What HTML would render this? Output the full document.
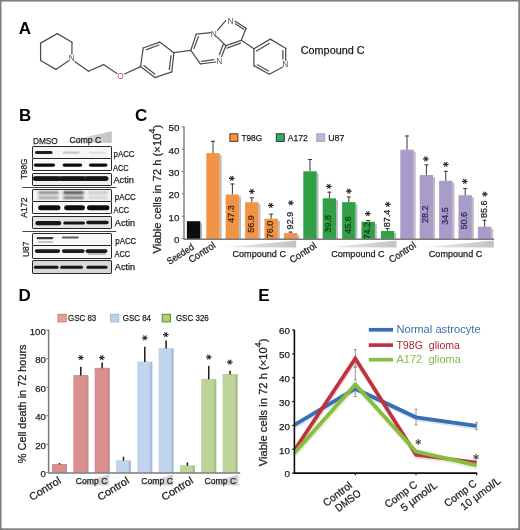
<!DOCTYPE html><html><head><meta charset="utf-8"><style>html,body{margin:0;padding:0;background:#fff;}svg{display:block;}text{font-family:"Liberation Sans",Arial,sans-serif;}</style></head><body>
<svg width="520" height="530" viewBox="0 0 520 530">
<rect x="0" y="0" width="520" height="530" fill="#ffffff"/>
<defs><filter id="soft" x="0" y="0" width="520" height="530" filterUnits="userSpaceOnUse"><feGaussianBlur stdDeviation="0.3"/></filter></defs>
<g filter="url(#soft)">
<defs><linearGradient id="wg" x1="0" y1="0" x2="1" y2="0"><stop offset="0" stop-color="#ececec"/><stop offset="1" stop-color="#c2c2c2"/></linearGradient><linearGradient id="wg2" x1="0" y1="0" x2="1" y2="0"><stop offset="0" stop-color="#f0f0f0"/><stop offset="1" stop-color="#cdcdcd"/></linearGradient><filter id="bl" x="-20%" y="-100%" width="140%" height="300%"><feGaussianBlur stdDeviation="0.75"/></filter><filter id="bl2" x="-20%" y="-100%" width="140%" height="300%"><feGaussianBlur stdDeviation="0.9"/></filter></defs>
<polygon points="60.8,142.6 111.8,131.3 111.8,142.9" fill="url(#wg)"/>
<text x="32.90" y="144.00" font-size="9.6" fill="#222" textLength="24.90" lengthAdjust="spacingAndGlyphs" stroke="#222" stroke-width="0.25">DMSO</text>
<text x="69.40" y="142.90" font-size="9.6" fill="#222" textLength="32.00" lengthAdjust="spacingAndGlyphs" stroke="#222" stroke-width="0.25">Comp C</text>
<rect x="32.5" y="146.50" width="79.0" height="12.00" rx="0.6" fill="#f6f6f6" stroke="#262626" stroke-width="1.0"/>
<text x="113.50" y="156.50" font-size="8.8" fill="#1e1e1e" textLength="21.00" lengthAdjust="spacingAndGlyphs" stroke="#1e1e1e" stroke-width="0.25">pACC</text>
<rect x="32.5" y="158.50" width="79.0" height="12.00" rx="0.6" fill="#fbfbfb" stroke="#262626" stroke-width="1.0"/>
<text x="113.10" y="170.50" font-size="8.8" fill="#1e1e1e" textLength="15.60" lengthAdjust="spacingAndGlyphs" stroke="#1e1e1e" stroke-width="0.25">ACC</text>
<rect x="32.5" y="173.50" width="79.0" height="12.00" rx="0.6" fill="#f0f0f0" stroke="#262626" stroke-width="1.0"/>
<text x="113.50" y="182.90" font-size="8.8" fill="#1e1e1e" textLength="20.40" lengthAdjust="spacingAndGlyphs" stroke="#1e1e1e" stroke-width="0.25">Actin</text>
<rect x="32.5" y="189.50" width="79.0" height="12.00" rx="0.6" fill="#f3f3f3" stroke="#262626" stroke-width="1.0"/>
<text x="114.80" y="199.80" font-size="8.8" fill="#1e1e1e" textLength="21.00" lengthAdjust="spacingAndGlyphs" stroke="#1e1e1e" stroke-width="0.25">pACC</text>
<rect x="32.5" y="201.50" width="79.0" height="12.00" rx="0.6" fill="#fbfbfb" stroke="#262626" stroke-width="1.0"/>
<text x="113.50" y="213.10" font-size="8.8" fill="#1e1e1e" textLength="15.60" lengthAdjust="spacingAndGlyphs" stroke="#1e1e1e" stroke-width="0.25">ACC</text>
<rect x="32.5" y="216.50" width="79.0" height="12.00" rx="0.6" fill="#e4e4e4" stroke="#262626" stroke-width="1.0"/>
<text x="114.80" y="225.70" font-size="8.8" fill="#1e1e1e" textLength="20.40" lengthAdjust="spacingAndGlyphs" stroke="#1e1e1e" stroke-width="0.25">Actin</text>
<rect x="32.5" y="233.50" width="79.0" height="12.00" rx="0.6" fill="#f8f8f8" stroke="#262626" stroke-width="1.0"/>
<text x="115.30" y="243.60" font-size="8.8" fill="#1e1e1e" textLength="21.00" lengthAdjust="spacingAndGlyphs" stroke="#1e1e1e" stroke-width="0.25">pACC</text>
<rect x="32.5" y="245.50" width="79.0" height="13.00" rx="0.6" fill="#f6f6f6" stroke="#262626" stroke-width="1.0"/>
<text x="114.50" y="257.30" font-size="8.8" fill="#1e1e1e" textLength="15.60" lengthAdjust="spacingAndGlyphs" stroke="#1e1e1e" stroke-width="0.25">ACC</text>
<rect x="32.5" y="260.50" width="79.0" height="13.00" rx="0.6" fill="#d8d8d8" stroke="#262626" stroke-width="1.0"/>
<text x="114.80" y="270.10" font-size="8.8" fill="#1e1e1e" textLength="20.40" lengthAdjust="spacingAndGlyphs" stroke="#1e1e1e" stroke-width="0.25">Actin</text>
<line x1="22.5" y1="187.5" x2="116.3" y2="187.5" stroke="#444" stroke-width="1.0"/>
<line x1="22.5" y1="231.5" x2="116.3" y2="231.5" stroke="#444" stroke-width="1.0"/>
<rect x="35.00" y="150.90" width="17.50" height="3.00" rx="1.50" fill="#1c1c1c" fill-opacity="1.0" filter="url(#bl)"/>
<rect x="62.70" y="151.50" width="16.90" height="2.20" rx="1.10" fill="#c6c6c6" fill-opacity="1.0" filter="url(#bl)"/>
<rect x="88.90" y="151.70" width="16.90" height="2.00" rx="1.00" fill="#e0e0e0" fill-opacity="1.0" filter="url(#bl)"/>
<rect x="33.80" y="163.50" width="21.30" height="3.20" rx="1.60" fill="#101010" fill-opacity="1.0" filter="url(#bl)"/>
<rect x="62.70" y="163.50" width="19.50" height="3.20" rx="1.60" fill="#101010" fill-opacity="1.0" filter="url(#bl)"/>
<rect x="88.90" y="163.50" width="18.60" height="3.20" rx="1.60" fill="#101010" fill-opacity="1.0" filter="url(#bl)"/>
<rect x="32.80" y="176.20" width="75.80" height="4.80" rx="2.40" fill="#2a2a2a" fill-opacity="1.0" filter="url(#bl)"/>
<rect x="33.50" y="176.50" width="26.50" height="4.20" rx="2.10" fill="#161616" fill-opacity="1.0" filter="url(#bl)"/>
<rect x="60.50" y="176.50" width="24.50" height="4.20" rx="2.10" fill="#161616" fill-opacity="1.0" filter="url(#bl)"/>
<rect x="85.50" y="176.50" width="22.50" height="4.20" rx="2.10" fill="#161616" fill-opacity="1.0" filter="url(#bl)"/>
<rect x="38.00" y="191.30" width="21.00" height="3.00" rx="1.50" fill="#8a8a8a" fill-opacity="1.0" filter="url(#bl2)"/>
<rect x="38.00" y="196.40" width="21.00" height="2.60" rx="1.30" fill="#9a9a9a" fill-opacity="1.0" filter="url(#bl2)"/>
<rect x="63.00" y="191.30" width="21.00" height="3.00" rx="1.50" fill="#4a4a4a" fill-opacity="1.0" filter="url(#bl2)"/>
<rect x="63.00" y="196.40" width="21.00" height="2.60" rx="1.30" fill="#666666" fill-opacity="1.0" filter="url(#bl2)"/>
<rect x="88.00" y="191.30" width="20.00" height="3.00" rx="1.50" fill="#c8c8c8" fill-opacity="1.0" filter="url(#bl2)"/>
<rect x="88.00" y="196.40" width="20.00" height="2.60" rx="1.30" fill="#cccccc" fill-opacity="1.0" filter="url(#bl2)"/>
<rect x="38.20" y="205.20" width="22.20" height="5.00" rx="2.50" fill="#0a0a0a" fill-opacity="1.0" filter="url(#bl)"/>
<rect x="64.20" y="205.20" width="20.70" height="5.00" rx="2.50" fill="#0a0a0a" fill-opacity="1.0" filter="url(#bl)"/>
<rect x="87.00" y="205.20" width="22.40" height="5.00" rx="2.50" fill="#0a0a0a" fill-opacity="1.0" filter="url(#bl)"/>
<rect x="35.40" y="221.10" width="25.80" height="4.20" rx="2.10" fill="#161616" fill-opacity="1.0" filter="url(#bl)"/>
<rect x="63.30" y="221.40" width="21.70" height="3.00" rx="1.50" fill="#161616" fill-opacity="1.0" filter="url(#bl)"/>
<rect x="86.20" y="220.65" width="22.40" height="3.50" rx="1.75" fill="#161616" fill-opacity="1.0" filter="url(#bl)"/>
<rect x="36.50" y="237.00" width="16.90" height="2.20" rx="1.10" fill="#3a3a3a" fill-opacity="1.0" filter="url(#bl)"/>
<rect x="38.00" y="241.10" width="15.40" height="1.80" rx="0.90" fill="#c4c4c4" fill-opacity="1.0" filter="url(#bl)"/>
<rect x="61.80" y="236.40" width="17.00" height="2.20" rx="1.10" fill="#5e5e5e" fill-opacity="1.0" filter="url(#bl)"/>
<rect x="34.80" y="249.30" width="25.40" height="3.60" rx="1.80" fill="#1a1a1a" fill-opacity="1.0" filter="url(#bl)"/>
<rect x="61.80" y="249.30" width="22.90" height="3.60" rx="1.80" fill="#1a1a1a" fill-opacity="1.0" filter="url(#bl)"/>
<rect x="85.50" y="249.30" width="22.00" height="3.60" rx="1.80" fill="#1a1a1a" fill-opacity="1.0" filter="url(#bl)"/>
<rect x="88.00" y="253.25" width="18.00" height="1.50" rx="0.75" fill="#a8a8a8" fill-opacity="1.0" filter="url(#bl)"/>
<rect x="33.90" y="265.80" width="24.60" height="3.00" rx="1.50" fill="#131313" fill-opacity="1.0" filter="url(#bl)"/>
<rect x="60.20" y="265.80" width="22.80" height="3.00" rx="1.50" fill="#131313" fill-opacity="1.0" filter="url(#bl)"/>
<rect x="86.40" y="265.80" width="21.10" height="3.00" rx="1.50" fill="#131313" fill-opacity="1.0" filter="url(#bl)"/>
<text x="27.3" y="168.8" font-size="9.8" fill="#222" text-anchor="middle" textLength="20.8" lengthAdjust="spacingAndGlyphs" transform="rotate(-90 27.3 168.8)" stroke="#222" stroke-width="0.25">T98G</text>
<text x="26.9" y="207.6" font-size="9.8" fill="#222" text-anchor="middle" textLength="20.2" lengthAdjust="spacingAndGlyphs" transform="rotate(-90 26.9 207.6)" stroke="#222" stroke-width="0.25">A172</text>
<text x="29.0" y="249.3" font-size="9.8" fill="#222" text-anchor="middle" textLength="15.5" lengthAdjust="spacingAndGlyphs" transform="rotate(-90 29.0 249.3)" stroke="#222" stroke-width="0.25">U87</text>
<text x="18.80" y="34.20" font-size="17" fill="#000" font-weight="bold">A</text>
<text x="19.10" y="120.70" font-size="17" fill="#000" font-weight="bold">B</text>
<text x="135.00" y="120.80" font-size="17" fill="#000" font-weight="bold">C</text>
<text x="18.60" y="301.30" font-size="17" fill="#000" font-weight="bold">D</text>
<text x="258.20" y="300.90" font-size="17" fill="#000" font-weight="bold">E</text>
<g stroke="#4d4d4d" stroke-width="1.25" stroke-linecap="round" fill="none">
<line x1="40.6" y1="43.1" x2="57.3" y2="33.6"/>
<line x1="57.3" y1="33.6" x2="72.0" y2="42.3"/>
<line x1="72.0" y1="42.3" x2="71.9" y2="54.2"/>
<line x1="68.4" y1="61.0" x2="55.8" y2="69.4"/>
<line x1="55.8" y1="69.4" x2="40.6" y2="60.5"/>
<line x1="40.6" y1="60.5" x2="40.6" y2="43.1"/>
<line x1="75.0" y1="61.8" x2="88.5" y2="71.3"/>
<line x1="88.5" y1="71.3" x2="103.5" y2="64.6"/>
<line x1="103.5" y1="64.6" x2="116.9" y2="73.4"/>
<line x1="124.6" y1="74.0" x2="140.6" y2="66.6"/>
<line x1="140.6" y1="66.6" x2="143.2" y2="48.0"/>
<line x1="143.2" y1="48.0" x2="159.7" y2="42.1"/>
<line x1="159.7" y1="42.1" x2="173.9" y2="52.7"/>
<line x1="173.9" y1="52.7" x2="171.8" y2="71.8"/>
<line x1="171.8" y1="71.8" x2="154.9" y2="77.6"/>
<line x1="154.9" y1="77.6" x2="140.6" y2="66.6"/>
<line x1="146.4" y1="49.6" x2="158.9" y2="45.0"/>
<line x1="171.0" y1="55.6" x2="169.3" y2="69.6"/>
<line x1="143.9" y1="65.6" x2="154.6" y2="74.0"/>
<line x1="173.9" y1="52.7" x2="190.8" y2="50.3"/>
<line x1="190.8" y1="50.3" x2="196.3" y2="34.1"/>
<line x1="194.0" y1="48.5" x2="198.4" y2="36.6"/>
<line x1="196.3" y1="34.1" x2="210.6" y2="32.6"/>
<line x1="216.6" y1="36.6" x2="225.9" y2="45.7"/>
<line x1="225.9" y1="45.7" x2="221.6" y2="56.4"/>
<line x1="223.4" y1="44.3" x2="219.3" y2="54.6"/>
<line x1="215.6" y1="62.0" x2="200.4" y2="63.9"/>
<line x1="201.6" y1="61.3" x2="213.8" y2="59.7"/>
<line x1="200.4" y1="63.9" x2="190.8" y2="50.3"/>
<line x1="217.6" y1="30.2" x2="225.7" y2="20.6"/>
<line x1="235.2" y1="21.2" x2="246.1" y2="28.3"/>
<line x1="235.4" y1="23.8" x2="243.6" y2="29.2"/>
<line x1="246.1" y1="28.3" x2="241.3" y2="40.3"/>
<line x1="241.3" y1="40.3" x2="225.9" y2="45.7"/>
<line x1="240.6" y1="43.2" x2="226.9" y2="48.1"/>
<line x1="241.3" y1="40.3" x2="253.9" y2="48.75"/>
<line x1="253.9" y1="48.75" x2="270.3" y2="39.1"/>
<line x1="256.5" y1="51.0" x2="269.5" y2="43.3"/>
<line x1="270.3" y1="39.1" x2="285.7" y2="48.3"/>
<line x1="285.7" y1="48.3" x2="285.7" y2="60.5"/>
<line x1="282.9" y1="50.5" x2="282.9" y2="59.0"/>
<line x1="282.4" y1="67.3" x2="269.3" y2="74.2"/>
<line x1="269.3" y1="74.2" x2="253.9" y2="65.6"/>
<line x1="268.5" y1="71.0" x2="257.4" y2="64.8"/>
<line x1="253.9" y1="65.6" x2="253.9" y2="48.75"/>
</g>
<text x="71.80" y="61.30" font-size="8.4" fill="#45567e" text-anchor="middle" stroke="none">N</text>
<text x="213.80" y="36.90" font-size="8.4" fill="#45567e" text-anchor="middle" stroke="none">N</text>
<text x="219.20" y="64.20" font-size="8.4" fill="#45567e" text-anchor="middle" stroke="none">N</text>
<text x="230.60" y="23.70" font-size="8.4" fill="#45567e" text-anchor="middle" stroke="none">N</text>
<text x="285.30" y="67.20" font-size="8.4" fill="#45567e" text-anchor="middle" stroke="none">N</text>
<text x="120.60" y="79.20" font-size="8.4" fill="#bf5a5a" text-anchor="middle" stroke="none">O</text>
<text x="300.80" y="54.20" font-size="10.8" fill="#1a1a1a" textLength="63.70" lengthAdjust="spacingAndGlyphs" stroke="#1a1a1a" stroke-width="0.25">Compound C</text>
<line x1="184.00" y1="126.40" x2="184.00" y2="239.50" stroke="#7a7a7a" stroke-width="1.4"/>
<line x1="181.60" y1="238.60" x2="184.00" y2="238.60" stroke="#7a7a7a" stroke-width="1.0"/>
<text x="179.40" y="243.00" font-size="9.8" fill="#222" text-anchor="end" stroke="#222" stroke-width="0.25">0</text>
<line x1="181.60" y1="216.26" x2="184.00" y2="216.26" stroke="#7a7a7a" stroke-width="1.0"/>
<text x="179.40" y="220.66" font-size="9.8" fill="#222" text-anchor="end" stroke="#222" stroke-width="0.25">10</text>
<line x1="181.60" y1="193.92" x2="184.00" y2="193.92" stroke="#7a7a7a" stroke-width="1.0"/>
<text x="179.40" y="198.32" font-size="9.8" fill="#222" text-anchor="end" stroke="#222" stroke-width="0.25">20</text>
<line x1="181.60" y1="171.58" x2="184.00" y2="171.58" stroke="#7a7a7a" stroke-width="1.0"/>
<text x="179.40" y="175.98" font-size="9.8" fill="#222" text-anchor="end" stroke="#222" stroke-width="0.25">30</text>
<line x1="181.60" y1="149.24" x2="184.00" y2="149.24" stroke="#7a7a7a" stroke-width="1.0"/>
<text x="179.40" y="153.64" font-size="9.8" fill="#222" text-anchor="end" stroke="#222" stroke-width="0.25">40</text>
<line x1="181.60" y1="126.90" x2="184.00" y2="126.90" stroke="#7a7a7a" stroke-width="1.0"/>
<text x="179.40" y="131.30" font-size="9.8" fill="#222" text-anchor="end" stroke="#222" stroke-width="0.25">50</text>
<text x="160.8" y="189.2" font-size="11.3" fill="#222" text-anchor="middle" transform="rotate(-90 160.8 189.2)" stroke="#222" stroke-width="0.25">Viable cells in 72 h (×10<tspan font-size="8.8" dy="-5.6">4</tspan><tspan dy="5.6">)</tspan></text>
<rect x="200.30" y="223.20" width="1.90" height="15.80" fill="#b9bcc2"/>
<rect x="186.90" y="221.20" width="13.40" height="17.80" fill="#111111"/>
<rect x="219.70" y="155.10" width="1.90" height="83.90" fill="#b9bcc2"/>
<rect x="206.30" y="153.10" width="13.40" height="85.90" fill="#f29444"/>
<line x1="213.00" y1="140.80" x2="213.00" y2="153.10" stroke="#3a3a3a" stroke-width="1.0"/>
<line x1="211.00" y1="141.30" x2="215.00" y2="141.30" stroke="#3a3a3a" stroke-width="1.0"/>
<rect x="239.10" y="196.50" width="1.90" height="42.50" fill="#b9bcc2"/>
<rect x="225.70" y="194.50" width="13.40" height="44.50" fill="#f29444"/>
<line x1="232.40" y1="183.50" x2="232.40" y2="194.50" stroke="#3a3a3a" stroke-width="1.0"/>
<line x1="230.40" y1="184.00" x2="234.40" y2="184.00" stroke="#3a3a3a" stroke-width="1.0"/>
<text x="232.40" y="178.50" style="font-family:'DejaVu Sans',sans-serif" font-size="9.0" fill="#2a2a2a" font-weight="bold" text-anchor="middle" dominant-baseline="central" transform="rotate(90 232.40 178.50)">&#x2217;</text>
<rect x="258.50" y="204.20" width="1.90" height="34.80" fill="#b9bcc2"/>
<rect x="245.10" y="202.20" width="13.40" height="36.80" fill="#f29444"/>
<line x1="251.80" y1="197.30" x2="251.80" y2="202.20" stroke="#3a3a3a" stroke-width="1.0"/>
<line x1="249.80" y1="197.80" x2="253.80" y2="197.80" stroke="#3a3a3a" stroke-width="1.0"/>
<text x="251.80" y="191.60" style="font-family:'DejaVu Sans',sans-serif" font-size="9.0" fill="#2a2a2a" font-weight="bold" text-anchor="middle" dominant-baseline="central" transform="rotate(90 251.80 191.60)">&#x2217;</text>
<rect x="277.90" y="220.70" width="1.90" height="18.30" fill="#b9bcc2"/>
<rect x="264.50" y="218.70" width="13.40" height="20.30" fill="#f29444"/>
<line x1="271.20" y1="213.70" x2="271.20" y2="218.70" stroke="#3a3a3a" stroke-width="1.0"/>
<line x1="269.20" y1="214.20" x2="273.20" y2="214.20" stroke="#3a3a3a" stroke-width="1.0"/>
<text x="271.20" y="205.60" style="font-family:'DejaVu Sans',sans-serif" font-size="9.0" fill="#2a2a2a" font-weight="bold" text-anchor="middle" dominant-baseline="central" transform="rotate(90 271.20 205.60)">&#x2217;</text>
<rect x="297.30" y="235.10" width="1.90" height="3.90" fill="#b9bcc2"/>
<rect x="283.90" y="233.10" width="13.40" height="5.90" fill="#f29444"/>
<line x1="290.60" y1="231.60" x2="290.60" y2="233.10" stroke="#3a3a3a" stroke-width="1.0"/>
<line x1="288.60" y1="232.10" x2="292.60" y2="232.10" stroke="#3a3a3a" stroke-width="1.0"/>
<text x="290.60" y="203.10" style="font-family:'DejaVu Sans',sans-serif" font-size="9.0" fill="#2a2a2a" font-weight="bold" text-anchor="middle" dominant-baseline="central" transform="rotate(90 290.60 203.10)">&#x2217;</text>
<rect x="316.70" y="173.30" width="1.90" height="65.70" fill="#b9bcc2"/>
<rect x="303.30" y="171.30" width="13.40" height="67.70" fill="#31a047"/>
<line x1="310.00" y1="159.00" x2="310.00" y2="171.30" stroke="#3a3a3a" stroke-width="1.0"/>
<line x1="308.00" y1="159.50" x2="312.00" y2="159.50" stroke="#3a3a3a" stroke-width="1.0"/>
<rect x="336.10" y="200.30" width="1.90" height="38.70" fill="#b9bcc2"/>
<rect x="322.70" y="198.30" width="13.40" height="40.70" fill="#31a047"/>
<line x1="329.40" y1="191.70" x2="329.40" y2="198.30" stroke="#3a3a3a" stroke-width="1.0"/>
<line x1="327.40" y1="192.20" x2="331.40" y2="192.20" stroke="#3a3a3a" stroke-width="1.0"/>
<text x="329.40" y="186.50" style="font-family:'DejaVu Sans',sans-serif" font-size="9.0" fill="#2a2a2a" font-weight="bold" text-anchor="middle" dominant-baseline="central" transform="rotate(90 329.40 186.50)">&#x2217;</text>
<rect x="355.50" y="204.10" width="1.90" height="34.90" fill="#b9bcc2"/>
<rect x="342.10" y="202.10" width="13.40" height="36.90" fill="#31a047"/>
<line x1="348.80" y1="196.50" x2="348.80" y2="202.10" stroke="#3a3a3a" stroke-width="1.0"/>
<line x1="346.80" y1="197.00" x2="350.80" y2="197.00" stroke="#3a3a3a" stroke-width="1.0"/>
<text x="348.80" y="191.20" style="font-family:'DejaVu Sans',sans-serif" font-size="9.0" fill="#2a2a2a" font-weight="bold" text-anchor="middle" dominant-baseline="central" transform="rotate(90 348.80 191.20)">&#x2217;</text>
<rect x="374.90" y="223.70" width="1.90" height="15.30" fill="#b9bcc2"/>
<rect x="361.50" y="221.70" width="13.40" height="17.30" fill="#31a047"/>
<line x1="368.20" y1="220.00" x2="368.20" y2="221.70" stroke="#3a3a3a" stroke-width="1.0"/>
<line x1="366.20" y1="220.50" x2="370.20" y2="220.50" stroke="#3a3a3a" stroke-width="1.0"/>
<text x="368.20" y="213.70" style="font-family:'DejaVu Sans',sans-serif" font-size="9.0" fill="#2a2a2a" font-weight="bold" text-anchor="middle" dominant-baseline="central" transform="rotate(90 368.20 213.70)">&#x2217;</text>
<rect x="394.30" y="233.00" width="1.90" height="6.00" fill="#b9bcc2"/>
<rect x="380.90" y="231.00" width="13.40" height="8.00" fill="#31a047"/>
<line x1="387.60" y1="228.00" x2="387.60" y2="231.00" stroke="#3a3a3a" stroke-width="1.0"/>
<line x1="385.60" y1="228.50" x2="389.60" y2="228.50" stroke="#3a3a3a" stroke-width="1.0"/>
<text x="387.60" y="204.50" style="font-family:'DejaVu Sans',sans-serif" font-size="9.0" fill="#2a2a2a" font-weight="bold" text-anchor="middle" dominant-baseline="central" transform="rotate(90 387.60 204.50)">&#x2217;</text>
<rect x="413.70" y="151.70" width="1.90" height="87.30" fill="#b9bcc2"/>
<rect x="400.30" y="149.70" width="13.40" height="89.30" fill="#a99cc8"/>
<line x1="407.00" y1="135.50" x2="407.00" y2="149.70" stroke="#3a3a3a" stroke-width="1.0"/>
<line x1="405.00" y1="136.00" x2="409.00" y2="136.00" stroke="#3a3a3a" stroke-width="1.0"/>
<rect x="433.10" y="177.00" width="1.90" height="62.00" fill="#b9bcc2"/>
<rect x="419.70" y="175.00" width="13.40" height="64.00" fill="#a99cc8"/>
<line x1="426.40" y1="164.40" x2="426.40" y2="175.00" stroke="#3a3a3a" stroke-width="1.0"/>
<line x1="424.40" y1="164.90" x2="428.40" y2="164.90" stroke="#3a3a3a" stroke-width="1.0"/>
<text x="426.40" y="158.90" style="font-family:'DejaVu Sans',sans-serif" font-size="9.0" fill="#2a2a2a" font-weight="bold" text-anchor="middle" dominant-baseline="central" transform="rotate(90 426.40 158.90)">&#x2217;</text>
<rect x="452.50" y="182.80" width="1.90" height="56.20" fill="#b9bcc2"/>
<rect x="439.10" y="180.80" width="13.40" height="58.20" fill="#a99cc8"/>
<line x1="445.80" y1="170.80" x2="445.80" y2="180.80" stroke="#3a3a3a" stroke-width="1.0"/>
<line x1="443.80" y1="171.30" x2="447.80" y2="171.30" stroke="#3a3a3a" stroke-width="1.0"/>
<text x="445.80" y="164.50" style="font-family:'DejaVu Sans',sans-serif" font-size="9.0" fill="#2a2a2a" font-weight="bold" text-anchor="middle" dominant-baseline="central" transform="rotate(90 445.80 164.50)">&#x2217;</text>
<rect x="471.90" y="197.20" width="1.90" height="41.80" fill="#b9bcc2"/>
<rect x="458.50" y="195.20" width="13.40" height="43.80" fill="#a99cc8"/>
<line x1="465.20" y1="188.00" x2="465.20" y2="195.20" stroke="#3a3a3a" stroke-width="1.0"/>
<line x1="463.20" y1="188.50" x2="467.20" y2="188.50" stroke="#3a3a3a" stroke-width="1.0"/>
<text x="465.20" y="181.50" style="font-family:'DejaVu Sans',sans-serif" font-size="9.0" fill="#2a2a2a" font-weight="bold" text-anchor="middle" dominant-baseline="central" transform="rotate(90 465.20 181.50)">&#x2217;</text>
<rect x="491.30" y="228.70" width="1.90" height="10.30" fill="#b9bcc2"/>
<rect x="477.90" y="226.70" width="13.40" height="12.30" fill="#a99cc8"/>
<line x1="484.60" y1="219.80" x2="484.60" y2="226.70" stroke="#3a3a3a" stroke-width="1.0"/>
<line x1="482.60" y1="220.30" x2="486.60" y2="220.30" stroke="#3a3a3a" stroke-width="1.0"/>
<text x="484.60" y="194.30" style="font-family:'DejaVu Sans',sans-serif" font-size="9.0" fill="#2a2a2a" font-weight="bold" text-anchor="middle" dominant-baseline="central" transform="rotate(90 484.60 194.30)">&#x2217;</text>
<line x1="184.00" y1="239.20" x2="494.20" y2="239.20" stroke="#7a7a7a" stroke-width="1.4"/>
<text x="231.50" y="214.10" font-size="9" fill="#3b2410" text-anchor="middle" dominant-baseline="central" transform="rotate(-90 231.50 214.10)" stroke="#3b2410" stroke-width="0.25">47.3</text>
<text x="250.90" y="223.90" font-size="9" fill="#3b2410" text-anchor="middle" dominant-baseline="central" transform="rotate(-90 250.90 223.90)" stroke="#3b2410" stroke-width="0.25">56.9</text>
<text x="270.30" y="229.40" font-size="9" fill="#3b2410" text-anchor="middle" dominant-baseline="central" transform="rotate(-90 270.30 229.40)" stroke="#3b2410" stroke-width="0.25">76.0</text>
<text x="289.70" y="220.60" font-size="9" fill="#222" text-anchor="middle" dominant-baseline="central" transform="rotate(-90 289.70 220.60)" stroke="#222" stroke-width="0.25">92.9</text>
<text x="328.50" y="223.80" font-size="9" fill="#0f3a18" text-anchor="middle" dominant-baseline="central" transform="rotate(-90 328.50 223.80)" stroke="#0f3a18" stroke-width="0.25">39.8</text>
<text x="347.90" y="225.00" font-size="9" fill="#0f3a18" text-anchor="middle" dominant-baseline="central" transform="rotate(-90 347.90 225.00)" stroke="#0f3a18" stroke-width="0.25">45.6</text>
<text x="367.30" y="230.50" font-size="9" fill="#0f3a18" text-anchor="middle" dominant-baseline="central" transform="rotate(-90 367.30 230.50)" stroke="#0f3a18" stroke-width="0.25">74.2</text>
<text x="386.70" y="218.50" font-size="9" fill="#222" text-anchor="middle" dominant-baseline="central" transform="rotate(-90 386.70 218.50)" stroke="#222" stroke-width="0.25">87.4</text>
<text x="425.50" y="214.20" font-size="9" fill="#302660" text-anchor="middle" dominant-baseline="central" transform="rotate(-90 425.50 214.20)" stroke="#302660" stroke-width="0.25">28.2</text>
<text x="444.90" y="216.00" font-size="9" fill="#302660" text-anchor="middle" dominant-baseline="central" transform="rotate(-90 444.90 216.00)" stroke="#302660" stroke-width="0.25">34.5</text>
<text x="464.30" y="220.80" font-size="9" fill="#302660" text-anchor="middle" dominant-baseline="central" transform="rotate(-90 464.30 220.80)" stroke="#302660" stroke-width="0.25">50.6</text>
<text x="483.70" y="209.20" font-size="9" fill="#222" text-anchor="middle" dominant-baseline="central" transform="rotate(-90 483.70 209.20)" stroke="#222" stroke-width="0.25">85.6</text>
<rect x="229.9" y="133.8" width="8.0" height="7.6" fill="#f7923a" stroke="#5a3a1a" stroke-width="1"/>
<text x="241.40" y="140.90" font-size="9.6" fill="#222" textLength="20.70" lengthAdjust="spacingAndGlyphs" stroke="#222" stroke-width="0.25">T98G</text>
<rect x="276.3" y="133.8" width="8.0" height="7.6" fill="#38ab68" stroke="#1f3f2a" stroke-width="1"/>
<text x="287.80" y="140.90" font-size="9.6" fill="#222" textLength="20.00" lengthAdjust="spacingAndGlyphs" stroke="#222" stroke-width="0.25">A172</text>
<rect x="316.7" y="133.8" width="8.0" height="7.6" fill="#c2b3da" stroke="#b0a3c8" stroke-width="1"/>
<text x="328.20" y="140.90" font-size="9.6" fill="#222" textLength="16.10" lengthAdjust="spacingAndGlyphs" stroke="#222" stroke-width="0.25">U87</text>
<polygon points="224.8,247.2 296.2,240.6 296.2,247.4" fill="url(#wg)"/>
<text x="232.50" y="257.20" font-size="9.2" fill="#222" textLength="53.50" lengthAdjust="spacingAndGlyphs" stroke="#222" stroke-width="0.25">Compound C</text>
<polygon points="329.2,247.2 396.5,240.6 396.5,247.4" fill="url(#wg)"/>
<text x="331.20" y="257.20" font-size="9.2" fill="#222" textLength="53.50" lengthAdjust="spacingAndGlyphs" stroke="#222" stroke-width="0.25">Compound C</text>
<polygon points="425.0,247.2 493.8,240.6 493.8,247.4" fill="url(#wg)"/>
<text x="428.80" y="257.20" font-size="9.2" fill="#222" textLength="53.50" lengthAdjust="spacingAndGlyphs" stroke="#222" stroke-width="0.25">Compound C</text>
<text x="169.6" y="265.0" font-size="9.8" fill="#1e1e1e" textLength="30.0" lengthAdjust="spacingAndGlyphs" transform="rotate(-33 169.6 265.0)" stroke="#1e1e1e" stroke-width="0.25">Seeded</text>
<text x="191.2" y="263.3" font-size="9.8" fill="#1e1e1e" textLength="30.0" lengthAdjust="spacingAndGlyphs" transform="rotate(-33 191.2 263.3)" stroke="#1e1e1e" stroke-width="0.25">Control</text>
<text x="292.2" y="263.6" font-size="9.8" fill="#1e1e1e" textLength="30.0" lengthAdjust="spacingAndGlyphs" transform="rotate(-33 292.2 263.6)" stroke="#1e1e1e" stroke-width="0.25">Control</text>
<text x="391.5" y="263.3" font-size="9.8" fill="#1e1e1e" textLength="30.0" lengthAdjust="spacingAndGlyphs" transform="rotate(-33 391.5 263.3)" stroke="#1e1e1e" stroke-width="0.25">Control</text>
<line x1="48.60" y1="329.40" x2="48.60" y2="473.20" stroke="#7a7a7a" stroke-width="1.5"/>
<line x1="46.20" y1="472.70" x2="48.60" y2="472.70" stroke="#7a7a7a" stroke-width="1.0"/>
<text x="45.80" y="477.10" font-size="9.6" fill="#222" text-anchor="end" stroke="#222" stroke-width="0.25">0</text>
<line x1="46.20" y1="444.22" x2="48.60" y2="444.22" stroke="#7a7a7a" stroke-width="1.0"/>
<text x="45.80" y="448.62" font-size="9.6" fill="#222" text-anchor="end" stroke="#222" stroke-width="0.25">20</text>
<line x1="46.20" y1="415.74" x2="48.60" y2="415.74" stroke="#7a7a7a" stroke-width="1.0"/>
<text x="45.80" y="420.14" font-size="9.6" fill="#222" text-anchor="end" stroke="#222" stroke-width="0.25">40</text>
<line x1="46.20" y1="387.26" x2="48.60" y2="387.26" stroke="#7a7a7a" stroke-width="1.0"/>
<text x="45.80" y="391.66" font-size="9.6" fill="#222" text-anchor="end" stroke="#222" stroke-width="0.25">60</text>
<line x1="46.20" y1="358.78" x2="48.60" y2="358.78" stroke="#7a7a7a" stroke-width="1.0"/>
<text x="45.80" y="363.18" font-size="9.6" fill="#222" text-anchor="end" stroke="#222" stroke-width="0.25">80</text>
<line x1="46.20" y1="330.30" x2="48.60" y2="330.30" stroke="#7a7a7a" stroke-width="1.0"/>
<text x="45.80" y="334.70" font-size="9.6" fill="#222" text-anchor="end" stroke="#222" stroke-width="0.25">100</text>
<text x="26.5" y="403.8" font-size="10.9" fill="#222" text-anchor="middle" transform="rotate(-90 26.5 403.8)" stroke="#222" stroke-width="0.25">% Cell death in 72 hours</text>
<rect x="52.00" y="464.00" width="15.00" height="8.70" fill="#da8f8e"/>
<rect x="64.60" y="464.80" width="2.40" height="7.90" fill="#c98c8c"/>
<line x1="59.50" y1="463.00" x2="59.50" y2="464.50" stroke="#1a1a1a" stroke-width="1.5"/>
<rect x="73.32" y="375.00" width="15.00" height="97.70" fill="#da8f8e"/>
<rect x="85.92" y="375.80" width="2.40" height="96.90" fill="#c98c8c"/>
<line x1="80.82" y1="366.80" x2="80.82" y2="375.50" stroke="#1a1a1a" stroke-width="1.5"/>
<text x="80.82" y="357.80" style="font-family:'DejaVu Sans',sans-serif" font-size="9.0" fill="#2a2a2a" font-weight="bold" text-anchor="middle" dominant-baseline="central" transform="rotate(90 80.82 357.80)">&#x2217;</text>
<rect x="94.64" y="367.80" width="15.00" height="104.90" fill="#da8f8e"/>
<rect x="107.24" y="368.60" width="2.40" height="104.10" fill="#c98c8c"/>
<line x1="102.14" y1="362.50" x2="102.14" y2="368.30" stroke="#1a1a1a" stroke-width="1.5"/>
<text x="102.14" y="357.90" style="font-family:'DejaVu Sans',sans-serif" font-size="9.0" fill="#2a2a2a" font-weight="bold" text-anchor="middle" dominant-baseline="central" transform="rotate(90 102.14 357.90)">&#x2217;</text>
<rect x="115.96" y="460.20" width="15.00" height="12.50" fill="#c0d4ee"/>
<rect x="128.56" y="461.00" width="2.40" height="11.70" fill="#adbdd3"/>
<line x1="123.46" y1="456.70" x2="123.46" y2="460.70" stroke="#1a1a1a" stroke-width="1.5"/>
<rect x="137.28" y="361.50" width="15.00" height="111.20" fill="#c0d4ee"/>
<rect x="149.88" y="362.30" width="2.40" height="110.40" fill="#adbdd3"/>
<line x1="144.78" y1="346.70" x2="144.78" y2="362.00" stroke="#1a1a1a" stroke-width="1.5"/>
<text x="144.78" y="338.10" style="font-family:'DejaVu Sans',sans-serif" font-size="9.0" fill="#2a2a2a" font-weight="bold" text-anchor="middle" dominant-baseline="central" transform="rotate(90 144.78 338.10)">&#x2217;</text>
<rect x="158.60" y="348.10" width="15.00" height="124.60" fill="#c0d4ee"/>
<rect x="171.20" y="348.90" width="2.40" height="123.80" fill="#adbdd3"/>
<line x1="166.10" y1="340.40" x2="166.10" y2="348.60" stroke="#1a1a1a" stroke-width="1.5"/>
<text x="166.10" y="334.80" style="font-family:'DejaVu Sans',sans-serif" font-size="9.0" fill="#2a2a2a" font-weight="bold" text-anchor="middle" dominant-baseline="central" transform="rotate(90 166.10 334.80)">&#x2217;</text>
<rect x="179.92" y="465.20" width="15.00" height="7.50" fill="#bdd498"/>
<rect x="192.52" y="466.00" width="2.40" height="6.70" fill="#aabf8a"/>
<line x1="187.42" y1="462.50" x2="187.42" y2="465.70" stroke="#1a1a1a" stroke-width="1.5"/>
<rect x="201.24" y="378.80" width="15.00" height="93.90" fill="#bdd498"/>
<rect x="213.84" y="379.60" width="2.40" height="93.10" fill="#aabf8a"/>
<line x1="208.74" y1="365.90" x2="208.74" y2="379.30" stroke="#1a1a1a" stroke-width="1.5"/>
<text x="208.74" y="357.40" style="font-family:'DejaVu Sans',sans-serif" font-size="9.0" fill="#2a2a2a" font-weight="bold" text-anchor="middle" dominant-baseline="central" transform="rotate(90 208.74 357.40)">&#x2217;</text>
<rect x="222.56" y="374.00" width="15.00" height="98.70" fill="#bdd498"/>
<rect x="235.16" y="374.80" width="2.40" height="97.90" fill="#aabf8a"/>
<line x1="230.06" y1="370.70" x2="230.06" y2="374.50" stroke="#1a1a1a" stroke-width="1.5"/>
<text x="230.06" y="362.30" style="font-family:'DejaVu Sans',sans-serif" font-size="9.0" fill="#2a2a2a" font-weight="bold" text-anchor="middle" dominant-baseline="central" transform="rotate(90 230.06 362.30)">&#x2217;</text>
<line x1="48.60" y1="472.90" x2="240.20" y2="472.90" stroke="#7a7a7a" stroke-width="1.5"/>
<rect x="58.0" y="314.3" width="8.2" height="7.6" fill="#e9a090" stroke="#d08070" stroke-width="1"/>
<text x="68.00" y="321.10" font-size="9.0" fill="#222" textLength="28.30" lengthAdjust="spacingAndGlyphs" stroke="#222" stroke-width="0.25">GSC 83</text>
<rect x="110.5" y="314.3" width="8.2" height="7.6" fill="#b9d3ef" stroke="#a0bcd8" stroke-width="1"/>
<text x="122.70" y="321.10" font-size="9.0" fill="#222" textLength="28.30" lengthAdjust="spacingAndGlyphs" stroke="#222" stroke-width="0.25">GSC 84</text>
<rect x="162.2" y="314.3" width="8.2" height="7.6" fill="#aad36c" stroke="#55883a" stroke-width="1"/>
<text x="175.90" y="321.10" font-size="9.0" fill="#222" textLength="32.90" lengthAdjust="spacingAndGlyphs" stroke="#222" stroke-width="0.25">GSC 326</text>
<polygon points="70.0,485.3 108.8,474.5 108.8,485.5" fill="url(#wg2)"/>
<text x="75.80" y="484.00" font-size="9.4" fill="#222" textLength="31.60" lengthAdjust="spacingAndGlyphs" stroke="#222" stroke-width="0.25">Comp C</text>
<polygon points="135.6,485.3 173.0,474.5 173.0,485.5" fill="url(#wg2)"/>
<text x="141.30" y="484.00" font-size="9.4" fill="#222" textLength="31.60" lengthAdjust="spacingAndGlyphs" stroke="#222" stroke-width="0.25">Comp C</text>
<polygon points="199.4,485.3 238.4,474.5 238.4,485.5" fill="url(#wg2)"/>
<text x="204.60" y="484.00" font-size="9.4" fill="#222" textLength="31.60" lengthAdjust="spacingAndGlyphs" stroke="#222" stroke-width="0.25">Comp C</text>
<text x="32.1" y="501.0" font-size="10.6" fill="#1e1e1e" textLength="35" lengthAdjust="spacingAndGlyphs" transform="rotate(-32 32.1 501.0)" stroke="#1e1e1e" stroke-width="0.25">Control</text>
<text x="100.3" y="501.0" font-size="10.6" fill="#1e1e1e" textLength="35" lengthAdjust="spacingAndGlyphs" transform="rotate(-32 100.3 501.0)" stroke="#1e1e1e" stroke-width="0.25">Control</text>
<text x="164.3" y="501.0" font-size="10.6" fill="#1e1e1e" textLength="35" lengthAdjust="spacingAndGlyphs" transform="rotate(-32 164.3 501.0)" stroke="#1e1e1e" stroke-width="0.25">Control</text>
<line x1="355.30" y1="349.60" x2="355.30" y2="367.50" stroke="#8a8a8a" stroke-width="0.9"/>
<line x1="353.80" y1="349.60" x2="356.80" y2="349.60" stroke="#8a8a8a" stroke-width="0.9"/>
<line x1="353.80" y1="367.50" x2="356.80" y2="367.50" stroke="#8a8a8a" stroke-width="0.9"/>
<line x1="355.30" y1="366.00" x2="355.30" y2="380.00" stroke="#8a8a8a" stroke-width="0.9"/>
<line x1="353.80" y1="366.00" x2="356.80" y2="366.00" stroke="#8a8a8a" stroke-width="0.9"/>
<line x1="353.80" y1="380.00" x2="356.80" y2="380.00" stroke="#8a8a8a" stroke-width="0.9"/>
<line x1="355.30" y1="388.70" x2="355.30" y2="396.50" stroke="#8a8a8a" stroke-width="0.9"/>
<line x1="353.80" y1="388.70" x2="356.80" y2="388.70" stroke="#8a8a8a" stroke-width="0.9"/>
<line x1="353.80" y1="396.50" x2="356.80" y2="396.50" stroke="#8a8a8a" stroke-width="0.9"/>
<line x1="416.00" y1="409.20" x2="416.00" y2="425.00" stroke="#8a8a8a" stroke-width="0.9"/>
<line x1="414.50" y1="409.20" x2="417.50" y2="409.20" stroke="#8a8a8a" stroke-width="0.9"/>
<line x1="414.50" y1="425.00" x2="417.50" y2="425.00" stroke="#8a8a8a" stroke-width="0.9"/>
<line x1="476.60" y1="422.70" x2="476.60" y2="429.80" stroke="#8a8a8a" stroke-width="0.9"/>
<line x1="475.10" y1="422.70" x2="478.10" y2="422.70" stroke="#8a8a8a" stroke-width="0.9"/>
<line x1="475.10" y1="429.80" x2="478.10" y2="429.80" stroke="#8a8a8a" stroke-width="0.9"/>
<defs><clipPath id="eclip"><rect x="294.4" y="320" width="200" height="160"/></clipPath></defs>
<g clip-path="url(#eclip)">
<g opacity="0.45" transform="translate(0.6,2.0)" filter="url(#bl)">
<polyline points="294.4,424.9 355.3,388.7 416.0,417.3 476.6,425.9" fill="none" stroke="#b0c0d8" stroke-width="3.6" stroke-linejoin="miter"/>
<polyline points="294.4,450.2 355.3,358.5 416.0,454.8 476.6,462.5" fill="none" stroke="#d8b0b0" stroke-width="3.6" stroke-linejoin="miter"/>
<polyline points="294.4,453.0 355.3,384.5 416.0,451.5 476.6,465.4" fill="none" stroke="#cfe0b0" stroke-width="4.2" stroke-linejoin="miter"/>
</g>
<polyline points="294.4,424.9 355.3,388.7 416.0,417.3 476.6,425.9" fill="none" stroke="#376eb5" stroke-width="3.8" stroke-linejoin="miter"/>
<polyline points="294.4,450.2 355.3,358.5 416.0,454.8 476.6,462.5" fill="none" stroke="#c0323f" stroke-width="3.7" stroke-linejoin="miter"/>
<polyline points="294.4,453.0 355.3,384.5 416.0,451.5 476.6,465.4" fill="none" stroke="#86be40" stroke-width="3.9" stroke-linejoin="miter"/>
</g>
<line x1="294.40" y1="329.80" x2="294.40" y2="473.70" stroke="#111" stroke-width="1.6"/>
<line x1="293.80" y1="473.10" x2="477.20" y2="473.10" stroke="#111" stroke-width="1.8"/>
<line x1="292.20" y1="473.10" x2="294.40" y2="473.10" stroke="#111" stroke-width="1.2"/>
<text x="290.00" y="477.40" font-size="9.8" fill="#222" text-anchor="end" stroke="#222" stroke-width="0.25">0</text>
<line x1="292.20" y1="449.25" x2="294.40" y2="449.25" stroke="#111" stroke-width="1.2"/>
<text x="290.00" y="453.55" font-size="9.8" fill="#222" text-anchor="end" stroke="#222" stroke-width="0.25">10</text>
<line x1="292.20" y1="425.40" x2="294.40" y2="425.40" stroke="#111" stroke-width="1.2"/>
<text x="290.00" y="429.70" font-size="9.8" fill="#222" text-anchor="end" stroke="#222" stroke-width="0.25">20</text>
<line x1="292.20" y1="401.55" x2="294.40" y2="401.55" stroke="#111" stroke-width="1.2"/>
<text x="290.00" y="405.85" font-size="9.8" fill="#222" text-anchor="end" stroke="#222" stroke-width="0.25">30</text>
<line x1="292.20" y1="377.70" x2="294.40" y2="377.70" stroke="#111" stroke-width="1.2"/>
<text x="290.00" y="382.00" font-size="9.8" fill="#222" text-anchor="end" stroke="#222" stroke-width="0.25">40</text>
<line x1="292.20" y1="353.85" x2="294.40" y2="353.85" stroke="#111" stroke-width="1.2"/>
<text x="290.00" y="358.15" font-size="9.8" fill="#222" text-anchor="end" stroke="#222" stroke-width="0.25">50</text>
<line x1="292.20" y1="330.00" x2="294.40" y2="330.00" stroke="#111" stroke-width="1.2"/>
<text x="290.00" y="334.30" font-size="9.8" fill="#222" text-anchor="end" stroke="#222" stroke-width="0.25">60</text>
<line x1="355.30" y1="473.10" x2="355.30" y2="475.30" stroke="#111" stroke-width="1.2"/>
<line x1="416.00" y1="473.10" x2="416.00" y2="475.30" stroke="#111" stroke-width="1.2"/>
<line x1="476.60" y1="473.10" x2="476.60" y2="475.30" stroke="#111" stroke-width="1.2"/>
<text x="266.9" y="402.4" font-size="11.2" fill="#222" text-anchor="middle" transform="rotate(-90 266.9 402.4)" stroke="#222" stroke-width="0.25">Viable cells in 72 h (×10<tspan font-size="8.8" dy="-5.6">4</tspan><tspan dy="5.6">)</tspan></text>
<text x="418.40" y="441.70" style="font-family:'DejaVu Sans',sans-serif" font-size="9.5" fill="#505050" font-weight="bold" text-anchor="middle" dominant-baseline="central">&#x2217;</text>
<text x="476.20" y="456.90" style="font-family:'DejaVu Sans',sans-serif" font-size="9.5" fill="#505050" font-weight="bold" text-anchor="middle" dominant-baseline="central">&#x2217;</text>
<line x1="368.80" y1="329.80" x2="393.00" y2="329.80" stroke="#376eb5" stroke-width="3.7"/>
<text x="396.40" y="333.40" font-size="11.2" fill="#3a6fb2" textLength="84.20" lengthAdjust="spacingAndGlyphs" stroke="none">Normal astrocyte</text>
<line x1="368.80" y1="345.10" x2="393.00" y2="345.10" stroke="#c0323f" stroke-width="3.7"/>
<text x="396.40" y="348.90" font-size="11.2" fill="#ad2638" textLength="63.60" lengthAdjust="spacingAndGlyphs" stroke="none">T98G&#160; glioma</text>
<line x1="368.80" y1="359.70" x2="393.00" y2="359.70" stroke="#86be40" stroke-width="3.7"/>
<text x="396.40" y="363.40" font-size="11.2" fill="#86bb48" textLength="64.60" lengthAdjust="spacingAndGlyphs" stroke="none">A172&#160; glioma</text>
<text x="326.2" y="507.0" font-size="10.6" fill="#1e1e1e" textLength="33.5" lengthAdjust="spacingAndGlyphs" transform="rotate(-37 326.2 507.0)" stroke="#1e1e1e" stroke-width="0.25">Control</text>
<text x="338.6" y="512.2" font-size="10.6" fill="#1e1e1e" textLength="29.0" lengthAdjust="spacingAndGlyphs" transform="rotate(-37 338.6 512.2)" stroke="#1e1e1e" stroke-width="0.25">DMSO</text>
<text x="388.1" y="508.6" font-size="10.6" fill="#1e1e1e" textLength="37.5" lengthAdjust="spacingAndGlyphs" transform="rotate(-37 388.1 508.6)" stroke="#1e1e1e" stroke-width="0.25">Comp C</text>
<text x="404.1" y="512.1" font-size="10.6" fill="#1e1e1e" textLength="42.5" lengthAdjust="spacingAndGlyphs" transform="rotate(-37 404.1 512.1)" stroke="#1e1e1e" stroke-width="0.25">5 µmol/L</text>
<text x="447.5" y="507.4" font-size="10.6" fill="#1e1e1e" textLength="37.5" lengthAdjust="spacingAndGlyphs" transform="rotate(-37 447.5 507.4)" stroke="#1e1e1e" stroke-width="0.25">Comp C</text>
<text x="463.7" y="510.7" font-size="10.6" fill="#1e1e1e" textLength="47.5" lengthAdjust="spacingAndGlyphs" transform="rotate(-37 463.7 510.7)" stroke="#1e1e1e" stroke-width="0.25">10 µmol/L</text>
</g>
<rect x="0.00" y="0.00" width="1.50" height="530.00" fill="#7f7f7f"/>
<rect x="0.00" y="0.00" width="520.00" height="1.60" fill="#7f7f7f"/>
<rect x="518.30" y="0.00" width="1.70" height="530.00" fill="#7f7f7f"/>
<rect x="0.00" y="528.30" width="520.00" height="1.70" fill="#7f7f7f"/>
</svg></body></html>
